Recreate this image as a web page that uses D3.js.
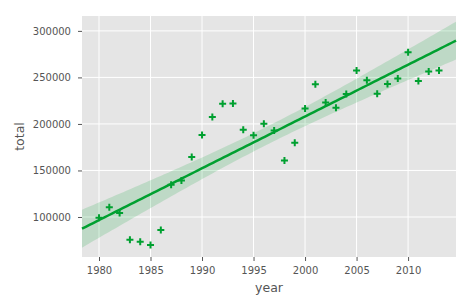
<!DOCTYPE html>
<html>
<head>
<meta charset="utf-8">
<script src="https://cdn.jsdelivr.net/npm/d3@7"></script>
<style>
  body { margin: 0; background: #fff; }
  svg { display: block; font-family: "DejaVu Sans", sans-serif; }
</style>
</head>
<body>
<div></div>
<script>
// data
var years = d3.range(1980, 2014);
var totals = [99137, 110563, 104271, 75550, 73417, 69978, 86048, 134771, 139306, 164432,
              188054, 207509, 221687, 222049, 193665, 187712, 200085, 192885, 160727, 179818,
              216712, 242643, 223111, 217297, 232083, 257457, 247057, 232405, 243047, 248768,
              276956, 246194, 256222, 257537];
var xTicks = [1980, 1985, 1990, 1995, 2000, 2005, 2010];
var yTicks = [100000, 150000, 200000, 250000, 300000];

var data = years.map(function(y, i) { return {year: y, total: totals[i]}; });

var green = "#00a030";

var W = 474, H = 304;
var margin = {top: 16, right: 18, bottom: 47, left: 82},
    width = W - margin.left - margin.right,
    height = H - margin.top - margin.bottom;

var x = d3.scaleLinear().domain([1978.35, 2014.65]).range([0, width]);
var y = d3.scaleLinear().domain([57000, 316000]).range([height, 0]);

var svg = d3.select("body").select("div").append("svg")
    .attr("width", W)
    .attr("height", H);

var g = svg.append("g")
    .attr("transform", "translate(" + margin.left + "," + margin.top + ")");

// background + grid
g.append("rect")
    .attr("width", width)
    .attr("height", height)
    .style("fill", "#e5e5e5");

g.selectAll(".vgrid")
    .data(xTicks)
    .enter().append("line")
    .attr("x1", function(d) { return x(d); })
    .attr("x2", function(d) { return x(d); })
    .attr("y1", 0)
    .attr("y2", height)
    .style("stroke", "#fff")
    .style("stroke-width", 1);

g.selectAll(".hgrid")
    .data(yTicks)
    .enter().append("line")
    .attr("y1", function(d) { return y(d); })
    .attr("y2", function(d) { return y(d); })
    .attr("x1", 0)
    .attr("x2", width)
    .style("stroke", "#fff")
    .style("stroke-width", 1);

// least squares fit + 95% confidence band
var n = data.length;
var mx = d3.mean(data, function(d) { return d.year; });
var my = d3.mean(data, function(d) { return d.total; });
var sxx = d3.sum(data, function(d) { return (d.year - mx) * (d.year - mx); });
var sxy = d3.sum(data, function(d) { return (d.year - mx) * (d.total - my); });
var slope = sxy / sxx, icpt = my - slope * mx;
var sse = d3.sum(data, function(d) { var r = d.total - (icpt + slope * d.year); return r * r; });
var s = Math.sqrt(sse / (n - 2));
var tval = 2.037;

var grid = d3.range(0, 101).map(function(i) {
    var xv = x.domain()[0] + (x.domain()[1] - x.domain()[0]) * i / 100;
    var yh = icpt + slope * xv;
    var se = s * Math.sqrt(1 / n + (xv - mx) * (xv - mx) / sxx);
    return {x: xv, y: yh, lo: yh - tval * se, hi: yh + tval * se};
});

g.append("path")
    .datum(grid)
    .attr("d", d3.area()
        .x(function(d) { return x(d.x); })
        .y0(function(d) { return y(d.lo); })
        .y1(function(d) { return y(d.hi); }))
    .style("fill", green)
    .style("opacity", 0.17);

// markers
g.selectAll(".pt")
    .data(data)
    .enter().append("path")
    .attr("transform", function(d) { return "translate(" + x(d.year) + "," + y(d.total) + ")"; })
    .attr("d", "M-3.5,0H3.5M0,-3.5V3.5")
    .style("stroke", green)
    .style("stroke-width", 2)
    .style("fill", "none");

g.append("path")
    .datum(grid)
    .attr("d", d3.line()
        .x(function(d) { return x(d.x); })
        .y(function(d) { return y(d.y); }))
    .style("stroke", green)
    .style("stroke-width", 2.5)
    .style("fill", "none");

// axes
var xAxis = g.append("g")
    .attr("transform", "translate(0," + height + ")")
    .call(d3.axisBottom(x).tickValues(xTicks).tickFormat(d3.format("d")).tickSizeInner(4).tickSizeOuter(0).tickPadding(6));

var yAxis = g.append("g")
    .call(d3.axisLeft(y).tickValues(yTicks).tickFormat(d3.format("d")).tickSizeInner(4).tickSizeOuter(0).tickPadding(7));

[xAxis, yAxis].forEach(function(a) {
    a.select(".domain").remove();
    a.selectAll("line").style("stroke", "#555");
    a.selectAll("text")
        .style("fill", "#555")
        .style("font-size", "10px")
        .style("font-family", "DejaVu Sans");
});

svg.append("text")
    .text("year")
    .attr("x", margin.left + width / 2)
    .attr("y", 292)
    .style("text-anchor", "middle")
    .style("fill", "#555")
    .style("font-size", "12.5px");

svg.append("text")
    .text("total")
    .attr("transform", "translate(24," + (margin.top + height / 2) + ") rotate(-90)")
    .style("text-anchor", "middle")
    .style("fill", "#555")
    .style("font-size", "12.5px");
</script>
</body>
</html>
